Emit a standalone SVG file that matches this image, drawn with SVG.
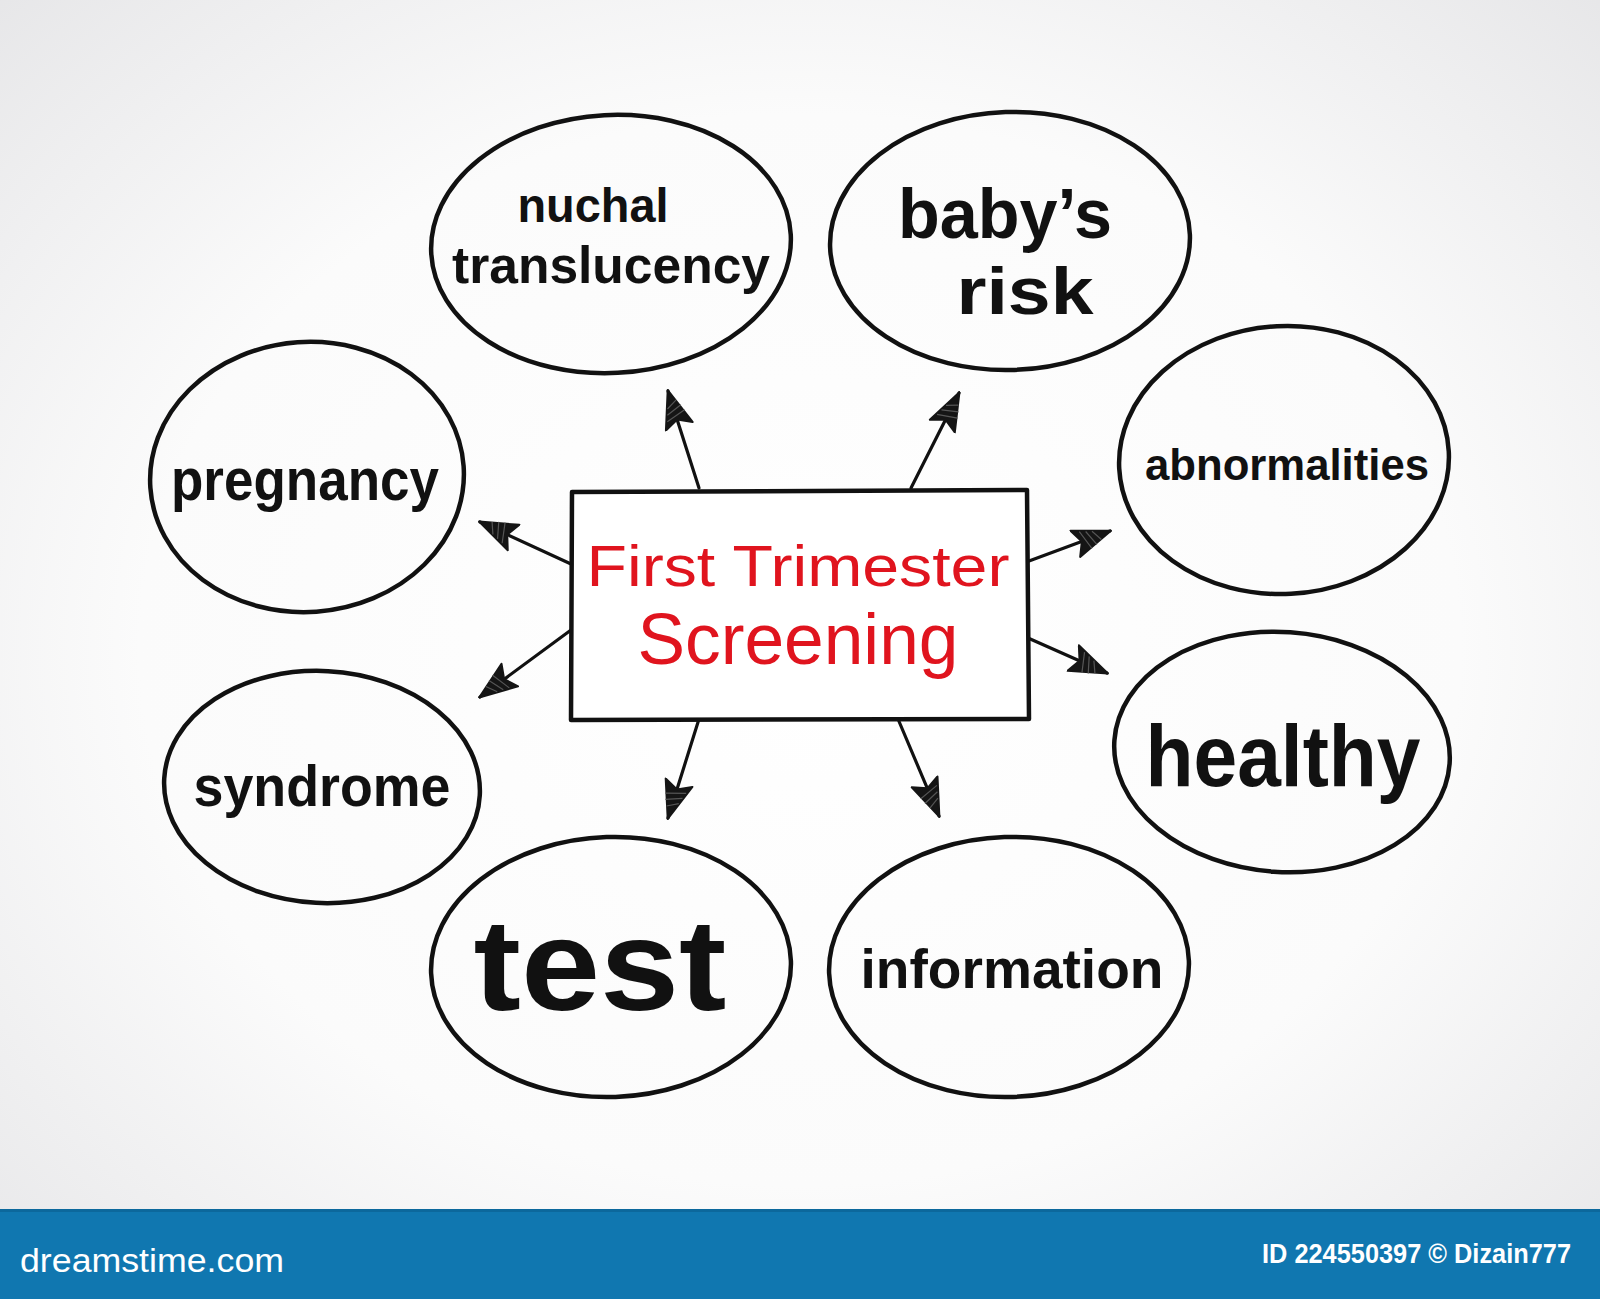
<svg xmlns="http://www.w3.org/2000/svg" width="1600" height="1299" viewBox="0 0 1600 1299">
<defs>
<radialGradient id="bg" cx="50%" cy="50%" r="75%">
<stop offset="0" stop-color="#ffffff"/>
<stop offset="0.55" stop-color="#fbfbfb"/>
<stop offset="1" stop-color="#e4e4e6"/>
</radialGradient>
<marker id="ah" viewBox="0 0 40 32" refX="38" refY="16" markerWidth="40" markerHeight="32" markerUnits="userSpaceOnUse" orient="auto">
<path d="M39,16 L1,2 L8,16 L1,30 Z" fill="#151515" stroke="#151515" stroke-width="2" stroke-linejoin="round"/>
<path d="M9,6 L15,26 M15,8 L21,24 M21,10 L27,21" stroke="#555" stroke-width="1.2" fill="none"/>
</marker>
<style>
.bub{fill:none;stroke:#111;stroke-width:4.5;stroke-linecap:round}
.con{stroke:#111;stroke-width:3.2;fill:none;stroke-linecap:round}
.lbl{font-family:"Liberation Sans","DejaVu Sans",sans-serif;fill:#111;text-anchor:middle;font-weight:bold}
.ttl{font-family:"Liberation Sans","DejaVu Sans",sans-serif;fill:#e0141e;text-anchor:middle}
.ft{font-family:"Liberation Sans","DejaVu Sans",sans-serif;fill:#ffffff}
</style>
</defs>
<rect x="0" y="0" width="1600" height="1299" fill="url(#bg)"/>

<g id="connectors">
<line class="con" x1="699" y1="488" x2="668" y2="391" marker-end="url(#ah)"/>
<line class="con" x1="911" y1="488" x2="959" y2="393" marker-end="url(#ah)"/>
<line class="con" x1="571" y1="564" x2="480" y2="522" marker-end="url(#ah)"/>
<line class="con" x1="1029" y1="561" x2="1110" y2="531" marker-end="url(#ah)"/>
<line class="con" x1="571" y1="630" x2="480" y2="697" marker-end="url(#ah)"/>
<line class="con" x1="1028" y1="638" x2="1107" y2="673" marker-end="url(#ah)"/>
<line class="con" x1="699" y1="719" x2="668" y2="818" marker-end="url(#ah)"/>
<line class="con" x1="898" y1="719" x2="939" y2="816" marker-end="url(#ah)"/>
</g>

<g id="center">
<path d="M572,492 L1027,490 L1029,719 L571,720 Z" fill="#ffffff" stroke="#111" stroke-width="4.5" stroke-linejoin="round"/>
<text class="ttl" x="798" y="586" font-size="58" textLength="423" lengthAdjust="spacingAndGlyphs">First Trimester</text>
<text class="ttl" x="798" y="664" font-size="72" textLength="321" lengthAdjust="spacingAndGlyphs">Screening</text>
</g>

<g id="n-nuchal">
<ellipse class="bub" cx="611" cy="244" rx="180" ry="129" transform="rotate(-3 611 244)"/>
<text class="lbl" x="593" y="222" font-size="48" textLength="151" lengthAdjust="spacingAndGlyphs">nuchal</text>
<text class="lbl" x="611" y="283" font-size="52" textLength="318" lengthAdjust="spacingAndGlyphs">translucency</text>
</g>
<g id="n-babys">
<ellipse class="bub" cx="1010" cy="241" rx="180" ry="129" transform="rotate(-2 1010 241)"/>
<text class="lbl" x="1005" y="238" font-size="70" textLength="214" lengthAdjust="spacingAndGlyphs">baby’s</text>
<text class="lbl" x="1025" y="314" font-size="66" textLength="137" lengthAdjust="spacingAndGlyphs">risk</text>
</g>
<g id="n-pregnancy">
<ellipse class="bub" cx="307" cy="477" rx="157" ry="135" transform="rotate(-4 307 477)"/>
<text class="lbl" x="305" y="500" font-size="60" textLength="268" lengthAdjust="spacingAndGlyphs">pregnancy</text>
</g>
<g id="n-abnormalities">
<ellipse class="bub" cx="1284" cy="460" rx="165" ry="134" transform="rotate(-3 1284 460)"/>
<text class="lbl" x="1287" y="480" font-size="44" textLength="284" lengthAdjust="spacingAndGlyphs">abnormalities</text>
</g>
<g id="n-syndrome">
<ellipse class="bub" cx="322" cy="787" rx="158" ry="116" transform="rotate(3 322 787)"/>
<text class="lbl" x="322" y="806" font-size="58" textLength="257" lengthAdjust="spacingAndGlyphs">syndrome</text>
</g>
<g id="n-healthy">
<ellipse class="bub" cx="1282" cy="752" rx="168" ry="120" transform="rotate(4 1282 752)"/>
<text class="lbl" x="1283" y="786" font-size="88" textLength="275" lengthAdjust="spacingAndGlyphs">healthy</text>
</g>
<g id="n-test">
<ellipse class="bub" cx="611" cy="967" rx="180" ry="130" transform="rotate(-2 611 967)"/>
<text class="lbl" x="600" y="1010" font-size="130" textLength="253" lengthAdjust="spacingAndGlyphs">test</text>
</g>
<g id="n-information">
<ellipse class="bub" cx="1009" cy="967" rx="180" ry="130" transform="rotate(-2 1009 967)"/>
<text class="lbl" x="1012" y="988" font-size="56" textLength="303" lengthAdjust="spacingAndGlyphs">information</text>
</g>

<g id="footer">
<rect x="0" y="1209" width="1600" height="90" fill="#1077b0"/>
<rect x="0" y="1209" width="1600" height="3" fill="#0c689c"/>
<text class="ft" x="20" y="1272" font-size="34" textLength="264" lengthAdjust="spacingAndGlyphs">dreamstime.com</text>
<text class="ft" x="1571" y="1263" font-size="27" font-weight="bold" text-anchor="end" textLength="309" lengthAdjust="spacingAndGlyphs">ID 224550397 © Dizain777</text>
</g>
</svg>
